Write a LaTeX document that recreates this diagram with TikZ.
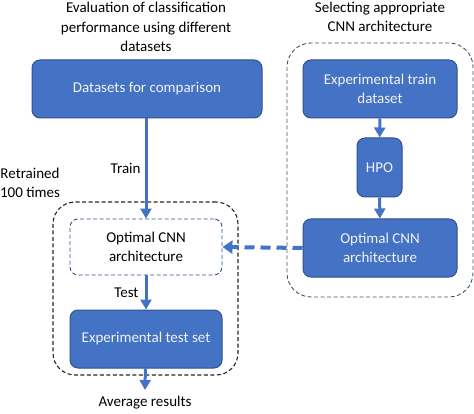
\documentclass[tikz,border=0pt]{standalone}
\usepackage{fontspec}
\setmainfont{Carlito}
\usetikzlibrary{arrows.meta}
\definecolor{boxblue}{HTML}{4472C4}
\definecolor{boxedge}{HTML}{2F528F}
\definecolor{slate}{HTML}{44546A}
\definecolor{txtwhite}{HTML}{F2F2F2}
\tikzset{
  bluebox/.style={draw=boxedge, line width=1pt, fill=boxblue, rounded corners=8pt, text=txtwhite, align=center, inner sep=0pt},
  flow/.style={draw=boxblue, line width=3pt, -{Triangle[width=11pt,length=10pt]}},
  lbl/.style={align=center, inner sep=0pt, text=black},
  smalldash/.style={dash pattern=on 4pt off 2.5pt},
}
\begin{document}
\begin{tikzpicture}[x=1pt,y=-1pt, font=\fontsize{15}{19.5}\selectfont]
\useasboundingbox (0,0) rectangle (474,414);
% titles
\node[lbl] (t1) at (146,27) {Evaluation of classification\\performance using different\\datasets};
\node[lbl] (t2) at (380,17) {Selecting appropriate\\CNN architecture};
% right dashed container
\node[draw=slate, smalldash, line width=0.9pt, rounded corners=24pt, minimum width=186pt, minimum height=254pt, inner sep=0pt] (rc) at (380,170) {};
% left outer dashed container
\node[draw=black!85, smalldash, line width=1.1pt, rounded corners=22pt, minimum width=185pt, minimum height=173pt, inner sep=0pt] (lc) at (145.5,288.5) {};
% boxes
\node[bluebox, minimum width=230pt, minimum height=58pt] (ds) at (147,89) {Datasets for comparison};
\node[bluebox, minimum width=154pt, minimum height=58pt] (etr) at (380,89) {Experimental train\\dataset};
\node[bluebox, minimum width=45pt, minimum height=59pt] (hpo) at (379.5,167.5) {HPO};
\node[bluebox, minimum width=154pt, minimum height=58pt] (oc2) at (380,248) {Optimal CNN\\architecture};
\node[draw=boxedge, smalldash, line width=0.9pt, rounded corners=8pt, minimum width=152pt, minimum height=56pt, align=center, inner sep=0pt] (oc1) at (146,247) {Optimal CNN\\architecture};
\node[bluebox, minimum width=152pt, minimum height=58pt] (ets) at (146,339) {Experimental test set};
\node[lbl] (avg) at (145,403) {Average results};
\node[lbl] (rt) at (30,183) {Retrained\\100 times};
\coordinate (avgtop) at (145,390);
% connectors
\draw[flow] (ds.south -| oc1.north) -- node[lbl, left=4pt, pos=0.5] (trl) {Train} (oc1.north);
\draw[flow] (etr) -- (hpo);
\draw[flow] (hpo) -- (oc2);
\draw[flow] (oc1) -- node[lbl, left=6pt] (tel) {Test} (ets);
\draw[flow] (ets) -- (avgtop);
\draw[draw=boxblue, line width=4pt, dash pattern=on 10pt off 6pt, -{Triangle[width=13pt,length=10pt]}] (oc2.west) -- (oc1.east);
\end{tikzpicture}
\end{document}
